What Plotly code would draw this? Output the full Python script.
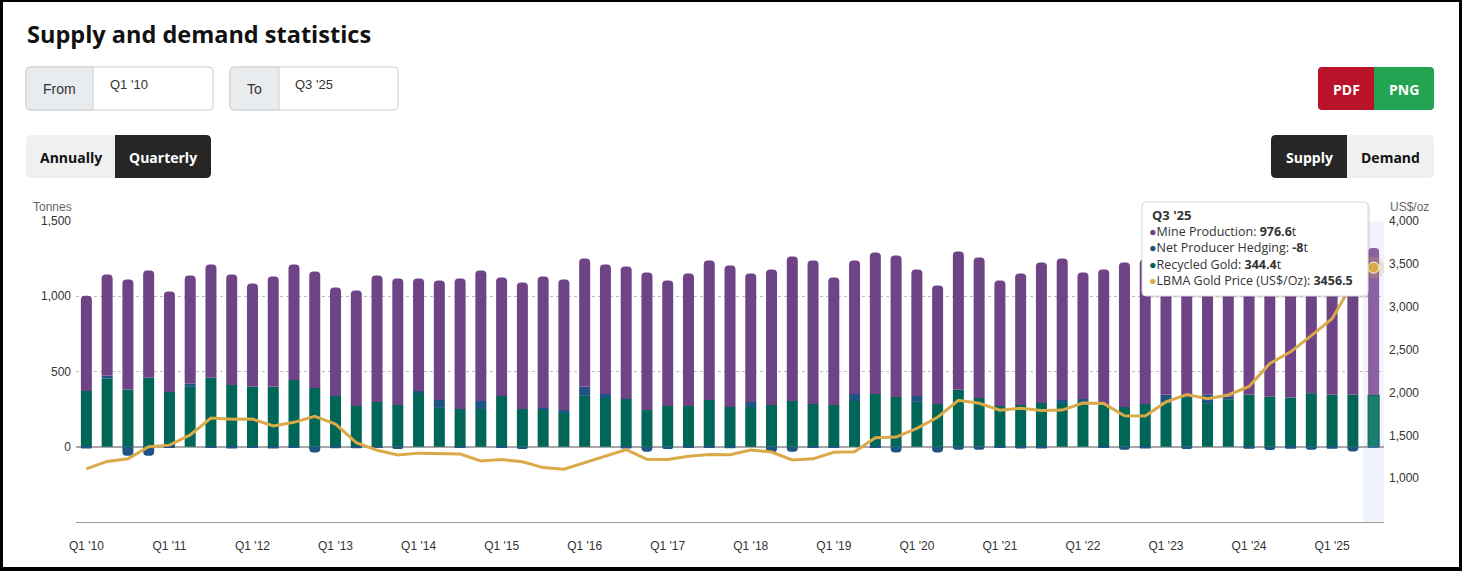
import plotly.graph_objects as go

# ---------------- data ----------------
years = [f"{y:02d}" for y in range(10, 26)]
quarter_names = ["Q1", "Q2", "Q3", "Q4"]
categories = [f"{q} '{y}" for y in years for q in quarter_names][:63]   # Q1 '10 .. Q3 '25
tick_labels = [f"Q1 '{y}" for y in years]

recycled_gold = [371, 453, 378, 458, 364, 398, 458, 411, 398, 398, 444, 391, 338, 271, 298, 278,
                 358, 258, 251, 251, 338, 251, 244, 224, 338, 324, 318, 244, 271, 271, 311, 264,
                 264, 278, 304, 284, 278, 304, 351, 331, 298, 284, 378, 324, 271, 278, 291, 291,
                 298, 284, 264, 284, 294, 330, 290, 316, 345, 332, 327, 356, 345, 345, 344.4]
net_hedging = [-12, 18, -60, -60, -3, 20, -5, -12, -4, -12, -4, -38, -10, -10, -5, -15,
               13, 53, -5, 53, -2, -15, 14, 20, 60, 27, -12, -33, -15, -8, -8, -10,
               34, -38, -33, -2, -8, 47, -5, -38, 40, -38, -20, -20, -2, -12, -12, 20,
               20, -3, -20, -12, 51, -15, 55, 18, -13, -22, -13, -20, -13, -31, -8]
mine_production = [633, 673, 733, 713, 667, 720, 753, 733, 686, 733, 767, 773, 720, 767, 840, 840,
                   747, 793, 867, 867, 786, 840, 873, 867, 853, 860, 880, 914, 833, 880, 927, 940,
                   853, 900, 960, 954, 846, 887, 940, 940, 840, 787, 920, 934, 833, 873, 933, 940,
                   840, 894, 960, 960, 860, 895, 965, 940, 860, 930, 975, 920, 860, 950, 976.6]
gold_price = [1109.1, 1196.7, 1226.8, 1366.8, 1386.3, 1506.1, 1702.1, 1688.0,
              1690.6, 1609.5, 1652.0, 1721.8, 1631.8, 1414.8, 1326.3, 1271.4,
              1293.1, 1288.4, 1281.9, 1201.4, 1218.5, 1192.4, 1124.3, 1106.5,
              1182.6, 1259.6, 1334.8, 1221.6, 1219.5, 1256.6, 1278.3, 1274.7,
              1329.3, 1306.0, 1213.2, 1226.3, 1303.5, 1309.4, 1472.5, 1481.1,
              1582.8, 1711.1, 1908.6, 1874.4, 1794.0, 1816.0, 1789.5, 1795.3,
              1877.2, 1870.6, 1728.9, 1725.9, 1889.9, 1975.9, 1928.5, 1971.5,
              2070.4, 2338.2, 2474.3, 2663.4, 2860.0, 3280.4, 3456.5]

left_ticks = [0, 500, 1000, 1500]
right_ticks = [1000, 1500, 2000, 2500, 3000, 3500, 4000]

# ---------------- style ----------------
PURPLE, PURPLE_H = "#6f4487", "#8a62a3"
GREEN, GREEN_H = "#006657", "#1b7f70"
BLUE, BLUE_H = "#1f5482", "#3a6d9c"
GOLD = "#daaa48"

W, H = 1462, 571
L, R, T, B = 76, 1384, 221, 522
n = len(categories)
hi = n - 1


def px(x):
    return (x - L) / (R - L)


def py(y):
    return (B - y) / (B - T)


def colors(base, high):
    return [high if i == hi else base for i in range(n)]


fig = go.Figure()
fig.add_bar(x=categories, y=recycled_gold, name="Recycled Gold",
            marker=dict(color=colors(GREEN, GREEN_H),
                        line=dict(color=["rgba(0,0,0,0)"] * hi + ["#0a5a4c"],
                                  width=[0] * hi + [1])))
fig.add_bar(x=categories, y=net_hedging, name="Net Producer Hedging",
            marker=dict(color=colors(BLUE, BLUE_H), line=dict(width=0)))
fig.add_bar(x=categories, y=mine_production, name="Mine Production",
            marker=dict(color=colors(PURPLE, PURPLE_H), line=dict(width=0)))
fig.add_scatter(x=categories, y=gold_price, yaxis="y2", mode="lines",
                name="LBMA Gold Price (US$/Oz)",
                line=dict(color=GOLD, width=3))
# hovered point
fig.add_scatter(x=[categories[hi]], y=[gold_price[hi]], yaxis="y2", mode="markers",
                marker=dict(color="rgba(218,170,72,0.25)", size=22, line=dict(width=0)))
fig.add_scatter(x=[categories[hi]], y=[gold_price[hi]], yaxis="y2", mode="markers",
                marker=dict(color=GOLD, size=11, line=dict(color="white", width=1)))

shapes = []
annotations = []

# hover band on last category
shapes.append(dict(type="rect", xref="x", yref="paper", x0=hi - 0.5, x1=hi + 0.5,
                   y0=0, y1=1, fillcolor="#f1f3fd", line=dict(width=0), layer="below"))


def rrect(x0, y0, x1, y1, r, fill, line_color=None, lw=0, left=True, right=True, layer="above"):
    rx = r / (R - L)
    ry = r / (B - T)
    X0, X1 = px(x0), px(x1)
    Y0, Y1 = py(y0), py(y1)  # Y0 is top (bigger)
    p = []
    if left:
        p.append(f"M{X0},{Y0 - ry} Q{X0},{Y0} {X0 + rx},{Y0}")
    else:
        p.append(f"M{X0},{Y0}")
    if right:
        p.append(f"L{X1 - rx},{Y0} Q{X1},{Y0} {X1},{Y0 - ry} L{X1},{Y1 + ry} Q{X1},{Y1} {X1 - rx},{Y1}")
    else:
        p.append(f"L{X1},{Y0} L{X1},{Y1}")
    if left:
        p.append(f"L{X0 + rx},{Y1} Q{X0},{Y1} {X0},{Y1 + ry} Z")
    else:
        p.append(f"L{X0},{Y1} Z")
    shapes.append(dict(type="path", xref="paper", yref="paper", path=" ".join(p),
                       fillcolor=fill, layer=layer,
                       line=dict(color=line_color or "rgba(0,0,0,0)", width=lw)))


def text(x, y, s, size=14, color="#333", family="Liberation Sans, Arial", xanchor="center",
         yanchor="middle", align="center"):
    annotations.append(dict(x=px(x), y=py(y), xref="paper", yref="paper", text=s, showarrow=False,
                            xanchor=xanchor, yanchor=yanchor, align=align,
                            font=dict(size=size, color=color, family=family)))


BOLD = "Open Sans, Noto Sans, sans-serif"

# title
text(25, 34, "<b>Supply and demand statistics</b>", size=23.5, color="#111", family=BOLD, xanchor="left")

# From / To inputs
rrect(26, 67, 213, 110, 4, "white", "#cfcfcf", 1)
rrect(26, 67, 93, 110, 4, "#e9ecef", "#cfcfcf", 1, right=False)
text(59, 89, "From", size=14, color="#333")
text(108, 84, "Q1 '10", size=13, color="#333", xanchor="left")
rrect(230, 67, 398, 110, 4, "white", "#cfcfcf", 1)
rrect(230, 67, 279, 110, 4, "#e9ecef", "#cfcfcf", 1, right=False)
text(254, 89, "To", size=14, color="#333")
text(293, 84, "Q3 '25", size=13, color="#333", xanchor="left")

# Annually / Quarterly
rrect(26, 135, 115, 178, 5, "#f0f0f0", right=False)
rrect(115, 135, 211, 178, 5, "#262626", left=False)
text(70.5, 157, "<b>Annually</b>", size=14, color="#111", family=BOLD)
text(163, 157, "<b>Quarterly</b>", size=14, color="white", family=BOLD)

# PDF / PNG
rrect(1318, 67, 1374, 110, 4, "#ba1228", right=False)
rrect(1374, 67, 1434, 110, 4, "#23a452", left=False)
text(1346, 89, "<b>PDF</b>", size=14, color="white", family=BOLD)
text(1404, 89, "<b>PNG</b>", size=14, color="white", family=BOLD)

# Supply / Demand
rrect(1271, 135, 1347, 178, 5, "#262626", right=False)
rrect(1347, 135, 1434, 178, 5, "#f0f0f0", left=False)
text(1309, 157, "<b>Supply</b>", size=14, color="white", family=BOLD)
text(1390.5, 157, "<b>Demand</b>", size=14, color="#111", family=BOLD)

# axis titles
text(52, 207, "Tonnes", size=12, color="#666")
text(1409, 207, "US$/oz", size=12, color="#666")

# tooltip
rrect(1143, 203, 1370, 298, 4, "rgba(0,0,0,0.08)")
rrect(1142, 202, 1368, 296, 4, "white", "#d9d9d9", 1)
TT = "Open Sans, Noto Sans, sans-serif"
text(1150, 215, f"<b>{categories[hi]}</b>", size=13, color="#333", family=TT, xanchor="left")
tt_rows = [
    (PURPLE, "Mine Production", f"{mine_production[hi]}", "t"),
    (BLUE, "Net Producer Hedging", f"{net_hedging[hi]}", "t"),
    (GREEN, "Recycled Gold", f"{recycled_gold[hi]}", "t"),
    (GOLD, "LBMA Gold Price (US$/Oz)", f"{gold_price[hi]}", ""),
]
rows_txt = "<br>".join(
    f"<span style='color:{c}'>●</span>{name}: <b>{val}</b>{unit}" for c, name, val, unit in tt_rows)
text(1147, 256, rows_txt, size=12.5, color="#333", family=TT, xanchor="left", align="left")

# black frame
for (x0, y0, x1, y1) in [(0, 0, W, 2), (0, 567, W, H), (0, 0, 3, H), (1459, 0, W, H)]:
    shapes.append(dict(type="rect", xref="paper", yref="paper", x0=px(x0), x1=px(x1),
                       y0=py(y1), y1=py(y0), fillcolor="black", line=dict(width=0), layer="above"))

axis_font = dict(family="Liberation Sans, Arial", size=12, color="#333")
fig.update_layout(
    width=W, height=H,
    margin=dict(l=L, r=W - R, t=T, b=H - B, pad=0),
    barmode="relative", bargap=0.47, barcornerradius=4,
    paper_bgcolor="white", plot_bgcolor="rgba(0,0,0,0)",
    showlegend=False, hovermode=False,
    xaxis=dict(type="category", categoryorder="array", categoryarray=categories,
               range=[-0.5, n - 0.5], tickmode="array", tickvals=tick_labels, ticktext=tick_labels,
               showgrid=False, showline=True, linecolor="#999", linewidth=1, ticks="",
               ticklabelstandoff=13, tickfont=axis_font, zeroline=False, fixedrange=True),
    yaxis=dict(range=[-500, 1500], tickmode="array", tickvals=left_ticks, tickformat=",",
               showgrid=True, gridcolor="#bdbdbd", griddash="dot", gridwidth=1,
               zeroline=True, zerolinecolor="#a8a8a8", zerolinewidth=2,
               ticks="", ticklabelstandoff=4, tickfont=axis_font, showline=False),
    yaxis2=dict(range=[490, 4000], overlaying="y", side="right", tickmode="array",
                tickvals=right_ticks, tickformat=",", showgrid=False, zeroline=False,
                ticks="", ticklabelstandoff=4, tickfont=axis_font, showline=False),
    shapes=shapes, annotations=annotations,
)

fig.write_html("out.html")
